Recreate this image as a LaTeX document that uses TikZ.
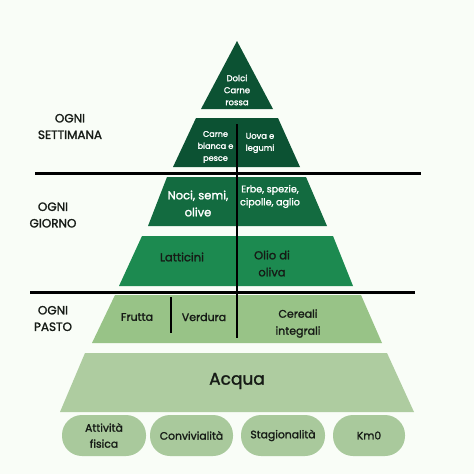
\documentclass[tikz,border=0pt]{standalone}
\usepackage{fontspec}
\setmainfont{Poppins}[FakeBold=1.6]
\definecolor{bg}{HTML}{F9FDF7}
\definecolor{gA}{HTML}{0C5233}
\definecolor{gB}{HTML}{136B40}
\definecolor{gC}{HTML}{1C8A50}
\definecolor{gD}{HTML}{98C387}
\definecolor{gE}{HTML}{AECCA0}
\definecolor{gF}{HTML}{A9C99C}
\definecolor{ink}{HTML}{161B16}
\tikzset{
  wt/.style={text=white, align=center, inner sep=0pt},
  dk/.style={text=ink, align=center, inner sep=0pt},
  sep/.style={line width=3pt, black},
  vline/.style={line width=1.8pt, black},
  pill/.style={fill=gF, rounded corners=20pt},
  lbl/.style={text=ink, align=center, inner sep=0pt, font=\fontsize{12}{16.5}\selectfont}
}
\begin{document}
\begin{tikzpicture}[x=1pt,y=-1pt]
\fill[bg] (0,0) rectangle (474,474);
\useasboundingbox (0,0) rectangle (474,474);
% tiers
\fill[gA] (237,41) -- (273,109) -- (201,109) -- cycle;
\fill[gA] (196,118) -- (278,118) -- (300,167) -- (173,167) -- cycle;
\fill[gB] (167,177) -- (306,177) -- (327,226) -- (148,226) -- cycle;
\fill[gC] (142,236) -- (333,236) -- (353,286) -- (119,286) -- cycle;
\fill[gD] (115,295) -- (361,295) -- (382,343) -- (92,343) -- cycle;
\fill[gE] (85,353) -- (387,353) -- (414,412) -- (60,412) -- cycle;
% separators
\coordinate (s1a) at (35,173); \coordinate (s1b) at (421,173);
\coordinate (s2a) at (30,292); \coordinate (s2b) at (415,292);
\draw[sep] (s1a) -- (s1b);
\draw[sep] (s2a) -- (s2b);
\coordinate (v1a) at (237,124); \coordinate (v1b) at (237,338);
\draw[vline] (v1a) -- (v1b);
\coordinate (v2a) at (171,297); \coordinate (v2b) at (171,333);
\draw[vline] (v2a) -- (v2b);
% pills
\fill[pill] (62,415) rectangle (146,456);
\fill[pill] (150,415) rectangle (233,456);
\fill[pill] (241,415) rectangle (325,456);
\fill[pill] (333,415) rectangle (405,456);
% texts
\node[wt, font=\fontsize{8.5}{12}\selectfont] (t1) at (237,90) {Dolci\\Carne\\rossa};
\node[wt, font=\fontsize{8.1}{12}\selectfont] (t2a) at (215.5,147) {Carne\\bianca e\\pesce};
\node[wt, font=\fontsize{8.3}{12}\selectfont] (t2b) at (260,143) {Uova e\\legumi};
\node[wt, font=\fontsize{11.5}{17}\selectfont] (t3a) at (198,203.5) {Noci, semi,\\olive};
\node[wt, font=\fontsize{9.6}{13}\selectfont] (t3b) at (270,196.5) {Erbe, spezie,\\cipolle, aglio};
\node[dk, font=\fontsize{11.5}{17}\selectfont] (t4a) at (182,257) {Latticini};
\node[dk, font=\fontsize{11.5}{17}\selectfont] (t4b) at (272,263.5) {Olio di\\oliva};
\node[dk, font=\fontsize{11}{17}\selectfont] (t5a) at (137,317) {Frutta};
\node[dk, font=\fontsize{11}{17}\selectfont] (t5b) at (204,317) {Verdura};
\node[dk, font=\fontsize{11}{17}\selectfont] (t5c) at (298,323.5) {Cereali\\integrali};
\node[dk, font=\fontsize{17}{20}\selectfont] (t6) at (237,381) {Acqua};
\node[dk, font=\fontsize{10.8}{16}\selectfont] (p1) at (104,435.5) {Attività\\fisica};
\node[dk, font=\fontsize{10.8}{16}\selectfont] (p2) at (191.5,435.5) {Convivialità};
\node[dk, font=\fontsize{10.8}{16}\selectfont] (p3) at (283,435.5) {Stagionalità};
\node[dk, font=\fontsize{10.8}{16}\selectfont] (p4) at (369,435.5) {Km0};
\node[lbl] (l1) at (70,126.5) {OGNI\\SETTIMANA};
\node[lbl] (l2) at (53,215) {OGNI\\GIORNO};
\node[lbl] (l3) at (53,318.5) {OGNI\\PASTO};
\end{tikzpicture}
\end{document}
